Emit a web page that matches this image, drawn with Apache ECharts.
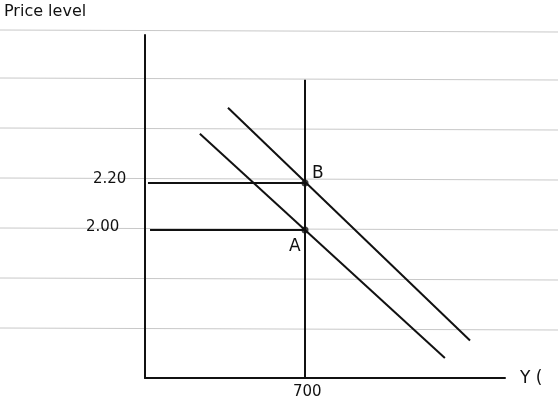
<!DOCTYPE html>
<html>
<head>
<meta charset="utf-8">
<script src="https://cdn.jsdelivr.net/npm/echarts@6/dist/echarts.min.js"></script>
<style>html,body{margin:0;background:#fff}#c{width:558px;height:408px}</style>
</head>
<body>
<div id="c"></div>
<script>
// price levels and output
var priceLevels = [2.00, 2.20];
var outputLevel = 700;
// demand curves (x, y) endpoints
var adOld = [[240, 2.41], [1312, 1.455]];
var adNew = [[363, 2.52], [1422, 1.53]];
var vertLine = [[700, 1.37], [700, 2.64]];
var hLine220 = [[13, 2.20], [700, 2.20]];
var hLine200 = [[22, 2.00], [700, 2.00]];

var chart = echarts.init(document.getElementById('c'));
var paperLines = [];
[30, 78, 128, 178, 228, 278, 328].forEach(function (y) {
  paperLines.push({type: 'line', z: -10, shape: {x1: 0, y1: y, x2: 558, y2: y + 2},
    style: {stroke: '#c8c8c8', lineWidth: 1}});
});
var lineStyle = {color: '#111', width: 2};
function seg(d) {
  return {type: 'line', data: d, symbol: 'none', lineStyle: lineStyle, silent: true};
}
chart.setOption({
  animation: false,
  grid: {left: 145, right: 53, top: 35, bottom: 30},
  xAxis: {type: 'value', min: 0, max: 1575, axisLine: {show: true, lineStyle: {color: '#111', width: 2}},
    axisTick: {show: false}, axisLabel: {show: false}, splitLine: {show: false}},
  yAxis: {type: 'value', min: 1.37, max: 2.83, axisLine: {show: true, lineStyle: {color: '#111', width: 2}},
    axisTick: {show: false}, axisLabel: {show: false}, splitLine: {show: false}},
  graphic: paperLines.concat([
    {type: 'text', left: 4, top: 4, style: {text: 'Price level', font: '16px "DejaVu Sans"', fill: '#111'}},
    {type: 'text', left: 93, top: 172, style: {text: '2.20', font: '15px "DejaVu Sans"', fill: '#111'}},
    {type: 'text', left: 86, top: 220, style: {text: '2.00', font: '15px "DejaVu Sans"', fill: '#111'}},
    {type: 'text', left: 293, top: 385, style: {text: '700', font: '15px "DejaVu Sans"', fill: '#111'}},
    {type: 'text', left: 312, top: 165, style: {text: 'B', font: '17px "DejaVu Sans"', fill: '#111'}},
    {type: 'text', left: 289, top: 238, style: {text: 'A', font: '17px "DejaVu Sans"', fill: '#111'}},
    {type: 'text', left: 520, top: 370, style: {text: 'Y (', font: '17px "DejaVu Sans"', fill: '#111'}}
  ]),
  series: [
    seg(adOld), seg(adNew), seg(vertLine), seg(hLine220), seg(hLine200),
    {type: 'scatter', symbolSize: 7, itemStyle: {color: '#111'},
      data: priceLevels.map(function (p) { return [outputLevel, p]; })}
  ]
});
</script>
</body>
</html>
